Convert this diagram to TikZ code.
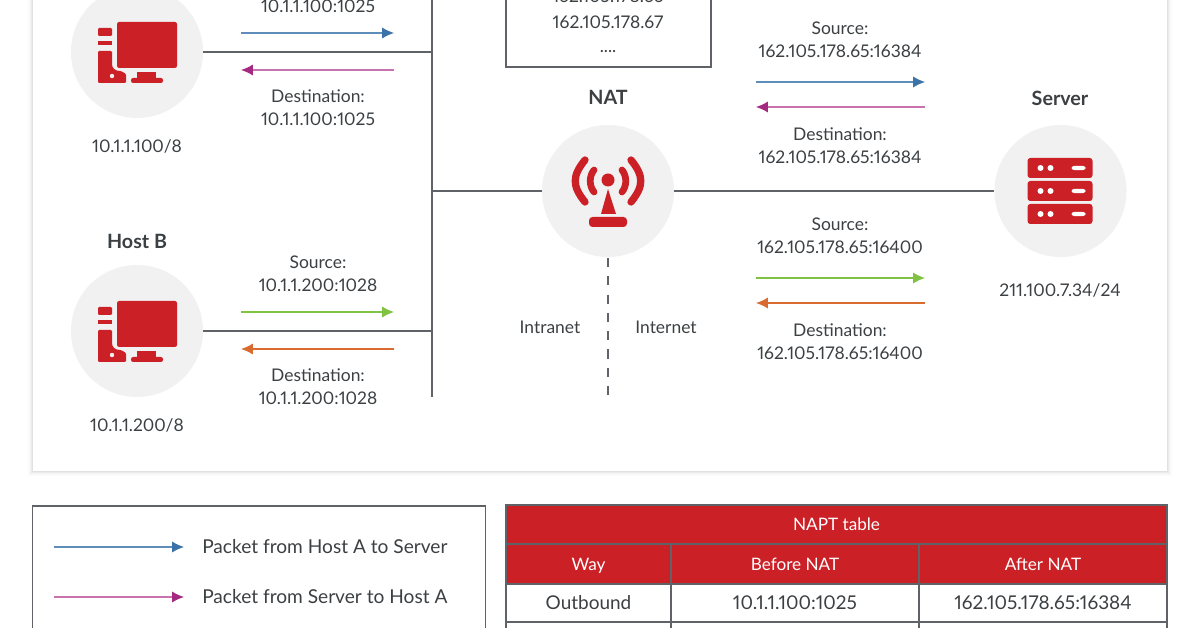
\documentclass[tikz,border=0pt]{standalone}
\usepackage[HTML]{xcolor}
\usepackage{fontspec}
\setmainfont[Numbers=Proportional]{Lato}
\usetikzlibrary{positioning, arrows.meta}
\definecolor{natred}{HTML}{CC2027}
\definecolor{inktext}{HTML}{3C4043}
\definecolor{wire}{HTML}{5F6368}
\definecolor{disc}{HTML}{F1F1F1}
\definecolor{bluel}{HTML}{5F8DBB}
\definecolor{blueh}{HTML}{3B72A8}
\definecolor{purpl}{HTML}{C873AE}
\definecolor{purph}{HTML}{A32A80}
\definecolor{greenl}{HTML}{80C342}
\definecolor{orangel}{HTML}{DA6B30}
\def\px{0.025cm}
\tikzset{
  label/.style={font=\fontsize{12.4}{16.3}\selectfont, text=inktext, align=center, inner sep=0},
  title/.style={label, font=\fontsize{14}{16.3}\selectfont\bfseries},
  keytext/.style={label, anchor=west, font=\fontsize{13.6}{16.3}\selectfont},
  disc/.style={circle, fill=disc, minimum size=132*\px, inner sep=0},
  wire/.style={draw=wire, line width=0.95pt},
  frame/.style={draw=wire, line width=0.95pt, fill=white, inner sep=0, text height=11.6pt, text depth=3pt},
  head/.style={frame, fill=natred, text=white, font=\fontsize{12.2}{16}\selectfont},
  cell/.style={frame, text=inktext, font=\fontsize{13.5}{16}\selectfont},
  pkt/.style n args={2}{draw=#1, line width=0.9pt, -{Latex[length=8.5pt,width=8pt,color=#2]}},
  pc/.pic={
    \fill[natred, rounded corners=1.5] (-20,-30) rectangle (40,16);
    \fill[natred, rounded corners=0.8] (-39,-24) rectangle (-25,-16);
    \fill[natred] (-39,-11) rectangle (-25,-7);
    \fill[natred, rounded corners=0.8] (-39,-1) -- (-25,-1) -- (-25,11) .. controls (-25,16) and (-22,19) .. (-16,19) -- (-11,22) -- (-11,31) -- (-39,31) -- cycle;
    \fill[disc] (-25,24) circle (2.2);
    \fill[natred] (0,20) rectangle (19,26);
    \fill[natred, rounded corners=1.5] (-6,26) rectangle (26,31);
  },
  rack/.pic={
    \fill[natred, rounded corners=2] (-33,-10) rectangle (32,10);
    \fill[white] (-20,0) circle (3) (-10,0) circle (3);
    \fill[white, rounded corners=2] (11,-2.2) rectangle (25,2.2);
  }
}
\begin{document}
\begin{tikzpicture}[x=\px, y=-\px]
\path[use as bounding box, clip] (0,0) rectangle (1200,628);
\fill[white] (0,0) rectangle (1200,628);
% panel with its soft edge
\foreach \d/\o in {5/0.012, 4/0.016, 3/0.02, 2/0.03, 1/0.04}
  \fill[black, opacity=\o] (33-\d,-20) rectangle (1167+\d,471+\d);
\fill[white] (33,-20) rectangle (1167,471);

% machines
\node[disc] (hostA) at (137,52) {};
\node[disc] (hostB) at (137,331) {};
\node[disc] (nat) at (608,191) {};
\node[disc] (server) at (1060.5,191) {};
\pic at (hostA) {pc};
\pic at (hostB) {pc};
\pic at (server) {rack};
\pic at (1060.5,168) {rack};
\pic at (1060.5,214) {rack};

% antenna
\fill[natred] (608,180) circle (6.5);
\fill[natred] (608,189) -- (616,214) -- (601,214) -- cycle;
\fill[natred, rounded corners=2.5] (589,217) rectangle (627,227);
\draw[natred, line width=5.2pt, line cap=round] (585,160) .. controls (572,176) and (572,186) .. (585,202);
\draw[natred, line width=5.2pt, line cap=round] (631,160) .. controls (644,176) and (644,186) .. (631,202);
\draw[natred, line width=4.8pt, line cap=round] (594,170) .. controls (589,176) and (589,186) .. (594,192);
\draw[natred, line width=4.8pt, line cap=round] (622,170) .. controls (627,176) and (627,186) .. (622,192);

% bus
\coordinate (busTop) at (432,-10);
\coordinate (busEnd) at (432,397);
\coordinate (busA) at (432,52);
\coordinate (busB) at (432,331);
\coordinate (busN) at (432,191);
\draw[wire] (busTop) -- (busEnd);
\draw[wire] (hostA.east) -- (busA);
\draw[wire] (hostB.east) -- (busB);
\draw[wire] (busN) -- (nat.west);
\draw[wire] (nat.east) -- (server.west);
\coordinate (splitTop) at (608,258);
\coordinate (splitEnd) at (608,397);
\draw[wire, dash pattern=on 6.5pt off 6.5pt] (splitTop) -- (splitEnd);

% address pool
\node[frame, minimum width=205*\px, minimum height=107*\px] (pool) at (608.5,13.5) {};
\node[label] (pool1) at (608,-4) {162.105.178.66};
\node[label] (pool2) at (608,22) {162.105.178.67};
\node[label] (pool3) at (608,52) {....};

% names
\node[title] (natName) at (608,97) {NAT};
\node[title] (serverName) at (1060,98) {Server};
\node[title] (hostBName) at (137,241) {Host B};
\node[label] (ipA) at (137,146) {10.1.1.100/8};
\node[label] (ipB) at (137,425) {10.1.1.200/8};
\node[label] (ipS) at (1060,290) {211.100.7.34/24};
\node[label] (intra) at (550,327) {Intranet};
\node[label] (inter) at (666,327) {Internet};

% packet labels
\node[label] (srcA) at (318,6) {10.1.1.100:1025};
\node[label] (dstA) at (318,108) {Destination:\\10.1.1.100:1025};
\node[label] (srcB) at (318,274) {Source:\\10.1.1.200:1028};
\node[label] (dstB) at (318,387) {Destination:\\10.1.1.200:1028};
\node[label] (srcNa) at (840,40) {Source:\\162.105.178.65:16384};
\node[label] (dstNa) at (840,146) {Destination:\\162.105.178.65:16384};
\node[label] (srcNb) at (840,236) {Source:\\162.105.178.65:16400};
\node[label] (dstNb) at (840,342) {Destination:\\162.105.178.65:16400};

% packet arrows
\coordinate (l1) at (241,33);  \coordinate (r1) at (394,33);
\coordinate (l2) at (241,70);  \coordinate (r2) at (394,70);
\coordinate (l3) at (241,312); \coordinate (r3) at (394,312);
\coordinate (l4) at (241,349); \coordinate (r4) at (394,349);
\coordinate (l5) at (756,82);  \coordinate (r5) at (925,82);
\coordinate (l6) at (756,107); \coordinate (r6) at (925,107);
\coordinate (l7) at (756,278); \coordinate (r7) at (925,278);
\coordinate (l8) at (756,303); \coordinate (r8) at (925,303);
\draw[pkt={bluel}{blueh}] (l1) -- (r1);
\draw[pkt={purpl}{purph}] (r2) -- (l2);
\draw[pkt={greenl}{greenl}] (l3) -- (r3);
\draw[pkt={orangel}{orangel}] (r4) -- (l4);
\draw[pkt={bluel}{blueh}] (l5) -- (r5);
\draw[pkt={purpl}{purph}] (r6) -- (l6);
\draw[pkt={greenl}{greenl}] (l7) -- (r7);
\draw[pkt={orangel}{orangel}] (r8) -- (l8);

% legend
\node[frame, minimum width=453*\px, minimum height=200*\px] (legend) at (259,606) {};
\coordinate (k1) at (54,547); \coordinate (k1e) at (184,547);
\coordinate (k2) at (54,597); \coordinate (k2e) at (184,597);
\draw[pkt={bluel}{blueh}] (k1) -- (k1e);
\draw[pkt={purpl}{purph}] (k2) -- (k2e);
\node[keytext] (keyA) at (202,547) {Packet from Host A to Server};
\node[keytext] (keyB) at (202,597) {Packet from Server to Host A};

% NAPT table
\node[head, minimum width=661*\px, minimum height=39*\px] (napt) at (836.5,524.5) {NAPT table};
\node[head, minimum width=165*\px, minimum height=40*\px] (way) at (588.5,564) {Way};
\node[head, minimum width=248*\px, minimum height=40*\px] (before) at (795,564) {Before NAT};
\node[head, minimum width=248*\px, minimum height=40*\px] (after) at (1043,564) {After NAT};
\node[cell, minimum width=165*\px, minimum height=38*\px] (out) at (588.5,603) {Outbound};
\node[cell, minimum width=248*\px, minimum height=38*\px] (outB) at (795,603) {10.1.1.100:1025};
\node[cell, minimum width=248*\px, minimum height=38*\px] (outA) at (1043,603) {162.105.178.65:16384};
\node[cell, minimum width=165*\px, minimum height=38*\px] (in) at (588.5,641) {};
\node[cell, minimum width=248*\px, minimum height=38*\px] (inB) at (795,641) {};
\node[cell, minimum width=248*\px, minimum height=38*\px] (inA) at (1043,641) {};
\end{tikzpicture}
\end{document}
